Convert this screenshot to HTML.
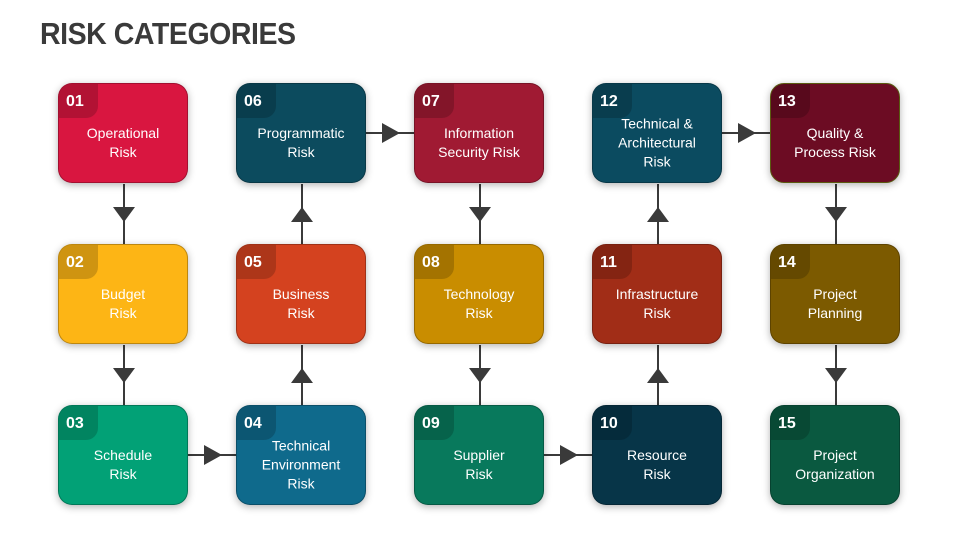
<!DOCTYPE html>
<html><head><meta charset="utf-8"><style>
body{margin:0;width:960px;height:540px;background:#fff;position:relative;overflow:hidden;font-family:"Liberation Sans",sans-serif}
h1{position:absolute;left:40px;top:16px;margin:0;font-size:31px;font-weight:bold;color:#3a3a3a;letter-spacing:-0.5px;transform:scaleX(0.92);transform-origin:left top}
.b{position:absolute;width:128px;height:98px;border-radius:14px;border:1px solid rgba(0,0,0,.25);box-shadow:0 2px 8px rgba(0,0,0,.3);overflow:hidden;color:#fff}
.t{position:absolute;left:0;top:0;width:39px;height:34px;background:rgba(0,0,0,.18);border-bottom-right-radius:12px}
.n{position:absolute;left:7px;top:9px;font-weight:bold;font-size:16px}
.x{position:absolute;left:0;right:0;top:59px;transform:translateY(-50%);text-align:center;font-size:14px;line-height:19px}
svg{position:absolute;left:0;top:0}
</style></head><body>
<h1>RISK CATEGORIES</h1>
<svg width="960" height="540">
<g stroke="#3a3a3a" stroke-width="2">
<line x1="124" y1="184" x2="124" y2="245"/><line x1="124" y1="345" x2="124" y2="405"/>
<line x1="302" y1="184" x2="302" y2="245"/><line x1="302" y1="345" x2="302" y2="405"/>
<line x1="480" y1="184" x2="480" y2="245"/><line x1="480" y1="345" x2="480" y2="405"/>
<line x1="658" y1="184" x2="658" y2="245"/><line x1="658" y1="345" x2="658" y2="405"/>
<line x1="836" y1="184" x2="836" y2="245"/><line x1="836" y1="345" x2="836" y2="405"/>
<line x1="188" y1="455" x2="237" y2="455"/><line x1="366" y1="133" x2="415" y2="133"/>
<line x1="544" y1="455" x2="593" y2="455"/><line x1="722" y1="133" x2="771" y2="133"/>
</g>
<g fill="#3a3a3a">
<polygon points="113,207 135,207 124,222"/><polygon points="113,368 135,368 124,383"/>
<polygon points="291,222 313,222 302,207"/><polygon points="291,383 313,383 302,368"/>
<polygon points="469,207 491,207 480,222"/><polygon points="469,368 491,368 480,383"/>
<polygon points="647,222 669,222 658,207"/><polygon points="647,383 669,383 658,368"/>
<polygon points="825,207 847,207 836,222"/><polygon points="825,368 847,368 836,383"/>
<polygon points="204,445 204,465 222,455"/><polygon points="382,123 382,143 400,133"/>
<polygon points="560,445 560,465 578,455"/><polygon points="738,123 738,143 756,133"/>
</g></svg>
<div class="b" style="left:58px;top:83px;background:#d91640"><div class="t"></div><div class="n">01</div><div class="x">Operational<br>Risk</div></div>
<div class="b" style="left:58px;top:244px;background:#fdb515"><div class="t"></div><div class="n">02</div><div class="x">Budget<br>Risk</div></div>
<div class="b" style="left:58px;top:405px;background:#02a176"><div class="t"></div><div class="n">03</div><div class="x">Schedule<br>Risk</div></div>
<div class="b" style="left:236px;top:405px;background:#0f6a8c"><div class="t"></div><div class="n">04</div><div class="x">Technical<br>Environment<br>Risk</div></div>
<div class="b" style="left:236px;top:244px;background:#d4421f"><div class="t"></div><div class="n">05</div><div class="x">Business<br>Risk</div></div>
<div class="b" style="left:236px;top:83px;background:#0c4b5e"><div class="t"></div><div class="n">06</div><div class="x">Programmatic<br>Risk</div></div>
<div class="b" style="left:414px;top:83px;background:#a01a33"><div class="t"></div><div class="n">07</div><div class="x">Information<br>Security Risk</div></div>
<div class="b" style="left:414px;top:244px;background:#c98d00"><div class="t"></div><div class="n">08</div><div class="x">Technology<br>Risk</div></div>
<div class="b" style="left:414px;top:405px;background:#08795c"><div class="t"></div><div class="n">09</div><div class="x">Supplier<br>Risk</div></div>
<div class="b" style="left:592px;top:405px;background:#073548"><div class="t"></div><div class="n">10</div><div class="x">Resource<br>Risk</div></div>
<div class="b" style="left:592px;top:244px;background:#a12d17"><div class="t"></div><div class="n">11</div><div class="x">Infrastructure<br>Risk</div></div>
<div class="b" style="left:592px;top:83px;background:#0b4b60"><div class="t"></div><div class="n">12</div><div class="x">Technical &amp;<br>Architectural<br>Risk</div></div>
<div class="b" style="left:770px;top:83px;background:#6c0c23;border-color:#5a5a10"><div class="t"></div><div class="n">13</div><div class="x">Quality &amp;<br>Process Risk</div></div>
<div class="b" style="left:770px;top:244px;background:#7c5a00"><div class="t"></div><div class="n">14</div><div class="x">Project<br>Planning</div></div>
<div class="b" style="left:770px;top:405px;background:#0a5940"><div class="t"></div><div class="n">15</div><div class="x">Project<br>Organization</div></div>
</body></html>
